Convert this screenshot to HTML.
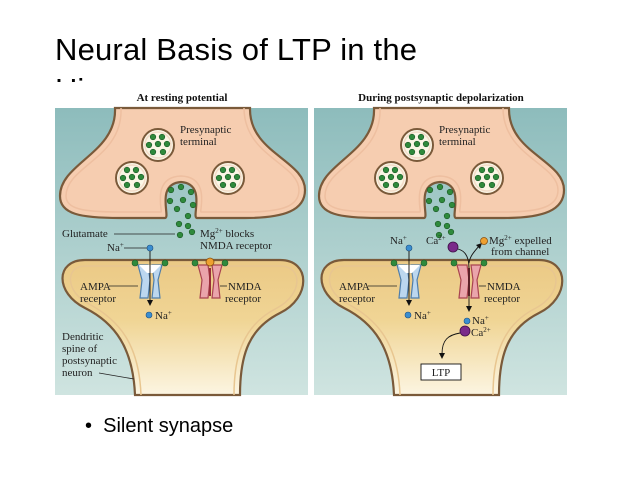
<!DOCTYPE html>
<html><head><meta charset="utf-8"><style>
html,body{margin:0;padding:0;background:#fff;}
svg{display:block;}
text{font-family:"Liberation Serif",serif;}
</style></head><body>
<svg width="638" height="479" viewBox="0 0 638 479" xmlns="http://www.w3.org/2000/svg">
<defs>
<linearGradient id="bg" x1="0" y1="0" x2="0" y2="1">
<stop offset="0" stop-color="#8dbcbc"/><stop offset="1" stop-color="#cfe4e0"/>
</linearGradient>
<linearGradient id="post" x1="0" y1="0" x2="0" y2="1">
<stop offset="0" stop-color="#ebc985"/><stop offset="0.45" stop-color="#f0d595"/><stop offset="1" stop-color="#fcf5e2"/>
</linearGradient>
<g id="ves">
<circle r="16" fill="#fbf6e6" stroke="#7a5a3a" stroke-width="2"/>
<circle r="13" fill="none" stroke="#f3dcc8" stroke-width="1.5"/>
<g fill="#2f8a3c" stroke="#1d5a28" stroke-width="0.6">
<circle cx="-5" cy="-8" r="2.8"/><circle cx="4" cy="-8" r="2.8"/><circle cx="-9" cy="0" r="2.8"/>
<circle cx="0" cy="-1" r="2.8"/><circle cx="9" cy="-1" r="2.8"/><circle cx="-5" cy="7" r="2.8"/><circle cx="5" cy="7" r="2.8"/>
</g>
</g>
<g id="base">
<rect x="0" y="0" width="253" height="287" fill="url(#bg)"/>
<path d="M60,0 C62,45 5,55 5,88 C5,106 25,110 65,110 L110,110 C116,110 100,76 126,74 C152,76 136,110 142,110 L190,110 C230,110 250,102 250,82 C250,52 194,45 195,0 Z" fill="#f6cdb0" stroke="#7a5a3a" stroke-width="2.2"/>
<path d="M66,0 C68,50 11,58 11,88 C11,101 28,104 65,104 L106,104 C108,104 96,69 126,68 C156,69 144,104 146,104 L190,104 C228,104 244,98 244,82 C244,56 189,48 189,0" fill="none" stroke="#eebfa0" stroke-width="1.5"/>
<use href="#ves" x="103" y="37"/>
<use href="#ves" x="77" y="70"/>
<use href="#ves" x="173" y="70"/>
<path d="M80,287 C78,240 60,215 30,200 C0,185 0,152 30,152 L225,152 C256,152 256,190 225,205 C195,220 185,245 185,287 Z" fill="url(#post)" stroke="#7a5a3a" stroke-width="2.2"/>
<path d="M86,287 C84,236 64,212 34,196 C10,184 10,158 30,158 L225,158 C248,158 248,186 222,200 C190,216 179,245 179,287" fill="none" stroke="#e8c690" stroke-width="1.5"/>
<g fill="#2f8a3c" stroke="#1d5a28" stroke-width="0.6">
<circle cx="116" cy="82" r="2.8"/><circle cx="126" cy="79" r="2.8"/><circle cx="136" cy="84" r="2.8"/>
<circle cx="115" cy="93" r="2.8"/><circle cx="128" cy="92" r="2.8"/><circle cx="138" cy="97" r="2.8"/>
<circle cx="122" cy="101" r="2.8"/><circle cx="133" cy="108" r="2.8"/><circle cx="124" cy="116" r="2.8"/>
<circle cx="133" cy="118" r="2.8"/><circle cx="125" cy="127" r="2.8"/><circle cx="137" cy="124" r="2.8"/>
</g>
<!-- AMPA -->
<g>
<path d="M83,157 L93,157 L95,172 L93,190 L85,190 L87,172 Z" fill="#bcd7ef" stroke="#4f7eab" stroke-width="1.2"/>
<path d="M97,157 L107,157 L103,172 L105,190 L97,190 L99,172 Z" fill="#bcd7ef" stroke="#4f7eab" stroke-width="1.2"/>
<path d="M84,157 L106,157 L98,165 L92,165 Z" fill="#fff"/>
<circle cx="80" cy="155" r="3" fill="#2f8a3c" stroke="#1d5a28" stroke-width="0.6"/>
<circle cx="110" cy="155" r="3" fill="#2f8a3c" stroke="#1d5a28" stroke-width="0.6"/>
</g>
<!-- NMDA -->
<g>
<path d="M143,157 L153,157 L155,172 L153,190 L145,190 L147,172 Z" fill="#eaa4ab" stroke="#a84450" stroke-width="1.2"/>
<path d="M157,157 L167,157 L163,172 L165,190 L157,190 L159,172 Z" fill="#eaa4ab" stroke="#a84450" stroke-width="1.2"/>
<line x1="155" y1="160" x2="155" y2="188" stroke="#9a2e3a" stroke-width="2"/>
<circle cx="140" cy="155" r="3" fill="#2f8a3c" stroke="#1d5a28" stroke-width="0.6"/>
<circle cx="170" cy="155" r="3" fill="#2f8a3c" stroke="#1d5a28" stroke-width="0.6"/>
</g>
<g font-size="11" fill="#222">
<text x="125" y="25">Presynaptic</text>
<text x="125" y="37">terminal</text>
<text x="25" y="182">AMPA</text><line x1="54" y1="178" x2="83" y2="178" stroke="#222" stroke-width="0.8"/>
<text x="25" y="194">receptor</text>
<text x="173" y="182">NMDA</text><line x1="165" y1="178" x2="172" y2="178" stroke="#222" stroke-width="0.8"/>
<text x="170" y="194">receptor</text>
</g>
</g>
</defs>

<text x="55" y="60" font-size="31" textLength="362" style="font-family:'Liberation Sans',sans-serif" fill="#000">Neural Basis of LTP in the</text>
<text x="55" y="100" font-size="31" style="font-family:'Liberation Sans',sans-serif" fill="#000">Hippocampus</text>
<rect x="40" y="82" width="560" height="30" fill="#fff"/>
<text x="182" y="101" font-size="11" font-weight="bold" text-anchor="middle" fill="#111">At resting potential</text>
<text x="441" y="101" font-size="11" font-weight="bold" text-anchor="middle" fill="#111">During postsynaptic depolarization</text>

<g transform="translate(55,108)">
<use href="#base"/>
<circle cx="155" cy="154" r="4" fill="#eea030" stroke="#8a5010" stroke-width="0.8"/>
<circle cx="95" cy="140" r="3" fill="#3a8ed0" stroke="#1d4f80" stroke-width="0.6"/>
<line x1="95" y1="143" x2="95" y2="193" stroke="#111" stroke-width="0.9"/>
<path d="M92,192 L98,192 L95,198 Z" fill="#111"/>
<circle cx="94" cy="207" r="3" fill="#3a8ed0" stroke="#1d4f80" stroke-width="0.6"/>
<g font-size="11" fill="#222">
<text x="7" y="129">Glutamate</text><line x1="59" y1="126" x2="120" y2="126" stroke="#222" stroke-width="0.8"/>
<text x="52" y="143">Na<tspan font-size="7" dy="-4">+</tspan></text><line x1="69" y1="140" x2="92" y2="140" stroke="#222" stroke-width="0.8"/>
<text x="145" y="129">Mg<tspan font-size="7" dy="-4">2+</tspan><tspan dy="4"> blocks</tspan></text>
<text x="145" y="141">NMDA receptor</text>
<text x="100" y="211">Na<tspan font-size="7" dy="-4">+</tspan></text>
<text x="7" y="232">Dendritic</text>
<text x="7" y="244">spine of</text>
<text x="7" y="256">postsynaptic</text>
<text x="7" y="268">neuron</text><line x1="44" y1="265" x2="79" y2="271" stroke="#222" stroke-width="0.8"/>
</g>
</g>

<g transform="translate(314,108)">
<use href="#base"/>
<circle cx="95" cy="140" r="3" fill="#3a8ed0" stroke="#1d4f80" stroke-width="0.6"/>
<line x1="95" y1="143" x2="95" y2="193" stroke="#111" stroke-width="0.9"/>
<path d="M92,192 L98,192 L95,198 Z" fill="#111"/>
<circle cx="94" cy="207" r="3" fill="#3a8ed0" stroke="#1d4f80" stroke-width="0.6"/>
<circle cx="139" cy="139" r="5" fill="#7a2a8a" stroke="#3e1048" stroke-width="0.8"/>
<path d="M144,141 C152,143 155,150 155,160" fill="none" stroke="#111" stroke-width="0.9"/>
<line x1="155" y1="160" x2="155" y2="200" stroke="#111" stroke-width="0.9"/>
<path d="M152,198 L158,198 L155,204 Z" fill="#111"/>
<path d="M155,155 C156,148 160,144 165,138" fill="none" stroke="#111" stroke-width="0.9"/>
<path d="M162,137 L168,135 L166,141 Z" fill="#111"/>
<circle cx="170" cy="133" r="3.5" fill="#eea030" stroke="#8a5010" stroke-width="0.8"/>
<circle cx="153" cy="213" r="3" fill="#3a8ed0" stroke="#1d4f80" stroke-width="0.6"/>
<circle cx="151" cy="223" r="5" fill="#7a2a8a" stroke="#3e1048" stroke-width="0.8"/>
<path d="M146,225 C134,227 128,232 128,246" fill="none" stroke="#111" stroke-width="0.9"/>
<path d="M125,245 L131,245 L128,251 Z" fill="#111"/>
<rect x="107" y="256" width="40" height="16" fill="#fff" stroke="#111" stroke-width="0.9"/>
<g font-size="11" fill="#222">
<text x="76" y="136">Na<tspan font-size="7" dy="-4">+</tspan></text>
<text x="112" y="136">Ca<tspan font-size="7" dy="-4">2+</tspan></text>
<text x="175" y="136">Mg<tspan font-size="7" dy="-4">2+</tspan><tspan dy="4"> expelled</tspan></text>
<text x="177" y="147">from channel</text>
<text x="100" y="211">Na<tspan font-size="7" dy="-4">+</tspan></text>
<text x="158" y="216">Na<tspan font-size="7" dy="-4">+</tspan></text>
<text x="157" y="228">Ca<tspan font-size="7" dy="-4">2+</tspan></text>
<text x="127" y="268" text-anchor="middle">LTP</text>
</g>
</g>

<text x="85" y="432" font-size="20" style="font-family:'Liberation Sans',sans-serif" fill="#000">•&#160;&#160;Silent synapse</text>
</svg>
</body></html>
